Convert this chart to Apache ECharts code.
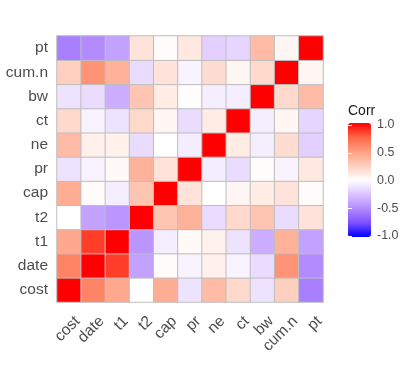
<!DOCTYPE html>
<html>
<head>
<meta charset="utf-8">
<script src="https://cdn.jsdelivr.net/npm/echarts@6/dist/echarts.min.js"></script>
<style>
html,body{margin:0;padding:0;background:#fff;}
#chart{width:414px;height:386px;}
</style>
</head>
<body>
<div id="chart"></div>
<script>
// Variable names (x left->right, y bottom->top)
var vars = ['cost', 'date', 't1', 't2', 'cap', 'pr', 'ne', 'ct', 'bw', 'cum.n', 'pt'];

// Correlation matrix rows, same order as vars
var rowCost = [1.00, 0.62, 0.45, 0.00, 0.42, -0.12, 0.35, 0.20, -0.12, 0.25, -0.55];
var rowDate = [0.62, 1.00, 0.85, -0.40, 0.02, -0.05, 0.08, -0.05, -0.15, 0.55, -0.50];
var rowT1   = [0.45, 0.85, 1.00, -0.45, -0.07, 0.03, 0.07, -0.12, -0.35, 0.40, -0.40];
var rowT2   = [0.00, -0.40, -0.45, 1.00, 0.30, 0.40, -0.15, 0.20, 0.30, -0.15, 0.15];
var rowCap  = [0.42, 0.02, -0.07, 0.30, 1.00, 0.15, 0.00, 0.05, 0.10, 0.15, 0.02];
var rowPr   = [-0.12, -0.05, 0.03, 0.40, 0.15, 1.00, -0.08, -0.15, 0.01, -0.05, 0.12];
var rowNe   = [0.35, 0.08, 0.07, -0.15, 0.00, -0.08, 1.00, 0.10, -0.07, 0.18, -0.20];
var rowCt   = [0.20, -0.05, -0.12, 0.20, 0.05, -0.15, 0.10, 1.00, -0.07, 0.05, -0.18];
var rowBw   = [-0.12, -0.15, -0.35, 0.30, 0.10, 0.01, -0.07, -0.07, 1.00, 0.20, 0.35];
var rowCumN = [0.25, 0.55, 0.40, -0.15, 0.15, -0.05, 0.18, 0.05, 0.20, 1.00, 0.05];
var rowPt   = [-0.55, -0.50, -0.40, 0.15, 0.02, 0.12, -0.20, -0.18, 0.35, 0.05, 1.00];

var corrRows = [rowCost, rowDate, rowT1, rowT2, rowCap, rowPr, rowNe, rowCt, rowBw, rowCumN, rowPt];

// Legend
var legendTitle = 'Corr';
var legendTicks = [-1.0, -0.5, 0.0, 0.5, 1.0];

var data = [];
for (var i = 0; i < vars.length; i++) {
  for (var j = 0; j < vars.length; j++) {
    data.push([j, i, corrRows[i][j]]);
  }
}

var chart = echarts.init(document.getElementById('chart'), null, {renderer: 'canvas'});
var labelColor = '#4D4D4D';
var font = 'Liberation Sans, Arial, sans-serif';

chart.setOption({
  backgroundColor: '#ffffff',
  animation: false,
  title: {
    text: legendTitle,
    left: 348,
    top: 104,
    padding: 0,
    textStyle: {fontSize: 14, fontWeight: 'normal', color: '#1a1a1a', fontFamily: font}
  },
  grid: [
    {left: 57, top: 36, width: 266, height: 266, containLabel: false},
    {left: 348, top: 125, width: 23, height: 111, containLabel: false}
  ],
  xAxis: [
    {
      type: 'category', gridIndex: 0, data: vars,
      axisLine: {show: false}, axisTick: {show: false}, splitLine: {show: false},
      axisLabel: {
        rotate: 45, interval: 0, margin: 14, color: labelColor,
        fontSize: 15.5, fontFamily: font, align: 'right', verticalAlign: 'top',
        padding: [0, -4, 0, 0]
      }
    },
    {type: 'value', gridIndex: 1, show: false, min: 0, max: 1}
  ],
  yAxis: [
    {
      type: 'category', gridIndex: 0, data: vars,
      axisLine: {show: false}, axisTick: {show: false}, splitLine: {show: false},
      axisLabel: {interval: 0, margin: 9, color: labelColor, fontSize: 15.5, fontFamily: font}
    },
    {
      type: 'value', gridIndex: 1, position: 'right', min: -1, max: 1, interval: 0.5, z: 10,
      axisLine: {show: false}, splitLine: {show: false},
      axisTick: {show: true, inside: true, length: 4, lineStyle: {color: '#ffffff', width: 1}},
      axisLabel: {
        margin: 6, color: labelColor, fontSize: 12.5, fontFamily: font,
        formatter: function (v) { return v.toFixed(1); }
      }
    },
    {
      type: 'value', gridIndex: 1, position: 'left', min: -1, max: 1, interval: 0.5, z: 10,
      axisLine: {show: false}, splitLine: {show: false},
      axisTick: {show: true, inside: true, length: 4, lineStyle: {color: '#ffffff', width: 1}},
      axisLabel: {show: false}
    }
  ],
  visualMap: {
    type: 'continuous',
    min: -1, max: 1,
    seriesIndex: 0,
    calculable: false,
    orient: 'vertical',
    left: 348, top: 123,
    itemWidth: 23, itemHeight: 114,
    padding: 0,
    text: null,
    showLabel: false,
    hoverLink: false,
    inRange: {
      color: ['#0000FF', '#7E51FF', '#B38BFF', '#DCC4FF', '#FFFFFF', '#FFCFBF', '#FF9E81', '#FF6746', '#FF0000']
    }
  },
  series: [{
    type: 'heatmap',
    xAxisIndex: 0, yAxisIndex: 0,
    data: data,
    itemStyle: {borderColor: '#BEBEBE', borderWidth: 1},
    emphasis: {disabled: true}
  }]
});
</script>
</body>
</html>
